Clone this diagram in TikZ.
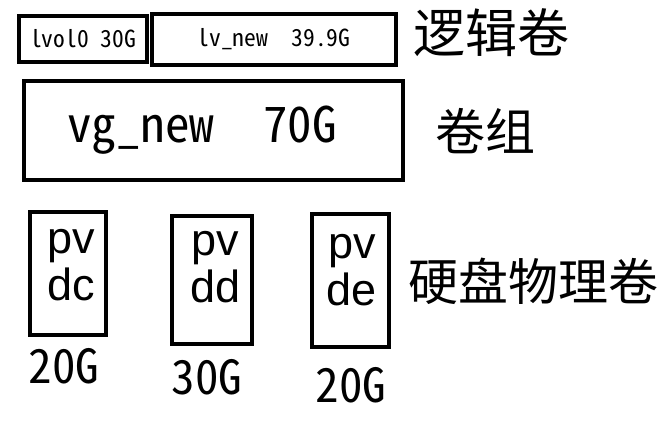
\documentclass[tikz,border=0pt]{standalone}
\usepackage{fontspec}
\setmainfont{Liberation Sans}
\newfontfamily\cjk{Noto Sans CJK SC}
\newfontfamily\cjkmono{Noto Sans Mono CJK SC}
\usetikzlibrary{positioning}

\tikzset{
   volbox/.style={draw, line width=4.5pt, inner sep=0pt},
   cjklabel/.style={font=\cjk\fontsize{50}{60}\selectfont, inner sep=0pt},
   sizelabel/.style={font=\cjkmono\fontsize{47}{50}\selectfont, inner sep=0pt},
   pvtext/.style={font=\fontsize{45}{47}\selectfont, align=center, inner sep=0pt, anchor=base}
}

\begin{document}
\begin{tikzpicture}[x=1pt,y=-1pt]

   % Rahmen
   \useasboundingbox (0,0) rectangle (660,420);

   % Logische Volumes
   \node[volbox, minimum width=128pt, minimum height=46pt,
         font=\cjkmono\fontsize{23.5}{26}\selectfont] (lvol) at (83,39) {lvol0 30G};
   \node[volbox, minimum width=244pt, minimum height=51pt,
         font=\cjkmono\fontsize{23.5}{26}\selectfont] (lvnew) at (274,39.5) {lv\_new\ \ 39.9G};
   \node[cjklabel, font=\cjk\fontsize{52}{60}\selectfont] (lvtitle) at (491,33) {逻辑卷};

   % Volume Group
   \node[volbox, minimum width=379pt, minimum height=99pt] (vg) at (213.5,130.5) {};
   \node[font=\cjkmono\fontsize{49}{52}\selectfont, inner sep=0pt, anchor=base]
         (vgtext) at (202,142) {vg\_new\ \ 70G};
   \node[cjklabel] (vgtitle) at (485,131) {卷组};

   % Physische Volumes
   \node[volbox, minimum width=76pt, minimum height=123pt] (pvdc) at (68,273.5) {};
   \node[volbox, minimum width=80pt, minimum height=128pt] (pvdd) at (212,280) {};
   \node[volbox, minimum width=77pt, minimum height=133pt] (pvde) at (350.5,280.5) {};

   \node[pvtext] (pvdctext) at (71.5,300) {pv\\dc};
   \node[pvtext] (pvddtext) at (215.5,302) {pv\\dd};
   \node[pvtext] (pvdetext) at (352,305) {pv\\de};

   \node[sizelabel] (pvdcsize) at (64,366) {20G};
   \node[sizelabel] (pvddsize) at (207,377) {30G};
   \node[sizelabel] (pvdesize) at (351,385) {20G};

   \node[cjklabel] (pvtitle) at (533,281) {硬盘物理卷};

\end{tikzpicture}
\end{document}
